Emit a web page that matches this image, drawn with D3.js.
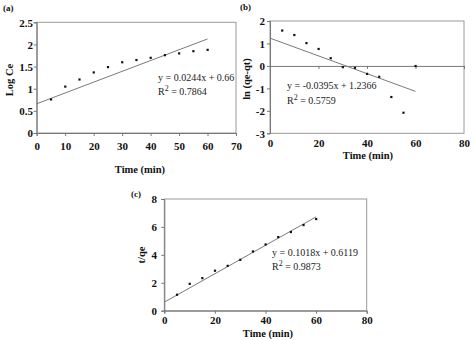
<!DOCTYPE html>
<html><head><meta charset="utf-8">
<script src="https://cdn.jsdelivr.net/npm/d3@7"></script>
<style>
html,body{margin:0;padding:0;background:#fff;}
svg{display:block;font-family:"Liberation Serif","Times New Roman",serif;}
</style></head>
<body><svg id="c" width="474" height="340"></svg>
<script>
// ---- data ----
const timeA = [5,10,15,20,25,30,35,40,45,50,55,60];
const logCe = [0.76,1.05,1.21,1.37,1.49,1.60,1.65,1.70,1.76,1.80,1.85,1.88];
const fitA = {slope:0.0244, intercept:0.66};
const xTicksA = [0,10,20,30,40,50,60,70];
const yTicksA = [0,0.5,1,1.5,2,2.5];

const timeB = [5,10,15,20,25,30,35,40,45,50,55,60];
const lnQ = [1.58,1.38,1.02,0.76,0.35,-0.05,-0.08,-0.35,-0.48,-1.38,-2.08,0.0];
const fitB = {slope:-0.0395, intercept:1.2366};
const xTicksB = [0,20,40,60,80];
const yTicksB = [-3,-2,-1,0,1,2];

const timeC = [5,10,15,20,25,30,35,40,45,50,55,60];
const tqe = [1.15,1.93,2.34,2.87,3.22,3.65,4.25,4.75,5.28,5.64,6.14,6.57];
const fitC = {slope:0.1018, intercept:0.6119};
const xTicksC = [0,20,40,60,80];
const yTicksC = [0,2,4,6,8];

const fitRange = [0,60];

// ---- layout ----
const panels = [
  {tag:"(a)", tagX:3, tagY:11, xs:timeA, ys:logCe, fit:fitA, xt:xTicksA, yt:yTicksA,
   xd:[0,70], yd:[0,2.5], L:36.7, R:236, T:22.3, B:133, axisY:0,
   ylab:"Log Ce", ylx:9, yly:80, xlx:140, xly:173, xtY:150, ytX:33,
   eq:"y = 0.0244x + 0.66", r2:"0.7864", r2sep:"=  ", eqx:158, eqy:81, r2y:95},
  {tag:"(b)", tagX:240, tagY:10, xs:timeB, ys:lnQ, fit:fitB, xt:xTicksB, yt:yTicksB,
   xd:[0,80], yd:[-3,2], L:270, R:464, T:21, B:133.3, axisY:0,
   ylab:"ln (qe-qt)", ylx:246, yly:79, xlx:368, xly:159, xtY:147, ytX:265,
   eq:"y = -0.0395x + 1.2366", r2:"0.5759", r2sep:"= ", eqx:287, eqy:89, r2y:104},
  {tag:"(c)", tagX:131, tagY:197, xs:timeC, ys:tqe, fit:fitC, xt:xTicksC, yt:yTicksC,
   xd:[0,80], yd:[0,8], L:164.3, R:366.7, T:199, B:310.7, axisY:0,
   ylab:"t/qe", ylx:141, yly:255, xlx:268, xly:337, xtY:324, ytX:157,
   eq:"y = 0.1018x + 0.6119", r2:"0.9873", r2sep:"= ", eqx:272, eqy:256, r2y:270}
];

const svg = d3.select("#c");
const fmt = d => String(d);

panels.forEach(p => {
  const x = d3.scaleLinear().domain(p.xd).range([p.L, p.R]);
  const y = d3.scaleLinear().domain(p.yd).range([p.B, p.T]);
  const g = svg.append("g");

  // plot box
  g.append("rect").attr("x", p.L).attr("y", p.T)
    .attr("width", p.R - p.L).attr("height", p.B - p.T)
    .attr("fill", "none").attr("stroke", "#9a9a9a").attr("stroke-width", 1);

  // left axis
  const ya = d3.axisLeft(y).tickValues(p.yt).tickSize(3).tickFormat(fmt);
  const yg = g.append("g").attr("transform", `translate(${p.L},0)`).call(ya);
  yg.select(".domain").attr("stroke", "#777");
  yg.selectAll(".tick line").attr("stroke", "#777");
  yg.selectAll("text").attr("x", p.ytX - p.L).attr("dy", "0.35em")
    .attr("font-size", 11).attr("font-weight", "bold").attr("fill", "#111")
    .attr("font-family", "Liberation Serif, serif");

  // x axis along y = axisY
  const xa = d3.axisBottom(x).tickValues(p.xt).tickSize(3).tickFormat(fmt);
  const xg = g.append("g").attr("transform", `translate(0,${y(p.axisY)})`).call(xa);
  xg.select(".domain").attr("stroke", "#777");
  xg.selectAll(".tick line").attr("stroke", "#777");
  xg.selectAll("text").attr("y", p.xtY - y(p.axisY)).attr("dy", 0)
    .attr("font-size", 11).attr("font-weight", "bold").attr("fill", "#111")
    .attr("font-family", "Liberation Serif, serif");

  // fit line
  const line = d3.line().x(d => x(d)).y(d => y(p.fit.slope * d + p.fit.intercept));
  g.append("path").datum(fitRange).attr("d", line)
    .attr("fill", "none").attr("stroke", "#7a7a7a").attr("stroke-width", 1);

  // points
  g.selectAll(".pt").data(p.xs.map((v, i) => [v, p.ys[i]])).enter()
    .append("rect").attr("class", "pt")
    .attr("x", d => x(d[0]) - 1).attr("y", d => y(d[1]) - 1)
    .attr("width", 2.2).attr("height", 2.2).attr("fill", "#111");

  // equation text
  g.append("text").attr("x", p.eqx).attr("y", p.eqy)
    .attr("font-size", 10).attr("fill", "#222").text(p.eq);
  const r = g.append("text").attr("x", p.eqx).attr("y", p.r2y)
    .attr("font-size", 10).attr("fill", "#222");
  r.append("tspan").text("R");
  r.append("tspan").attr("dy", -4).attr("font-size", 8).text("2");
  r.append("tspan").attr("dy", 4).text(" " + p.r2sep + p.r2);

  // axis titles
  g.append("text").attr("x", p.xlx).attr("y", p.xly).attr("text-anchor", "middle")
    .attr("font-size", 10.5).attr("font-weight", "bold").attr("fill", "#111").text("Time (min)");
  g.append("text").attr("transform", `translate(${p.ylx},${p.yly}) rotate(-90)`)
    .attr("text-anchor", "middle").attr("dy", "0.35em")
    .attr("font-size", 10.5).attr("font-weight", "bold").attr("fill", "#111").text(p.ylab);

  // panel tag
  g.append("text").attr("x", p.tagX).attr("y", p.tagY)
    .attr("font-size", 9).attr("font-weight", "bold").attr("fill", "#111").text(p.tag);
});
</script></body></html>
